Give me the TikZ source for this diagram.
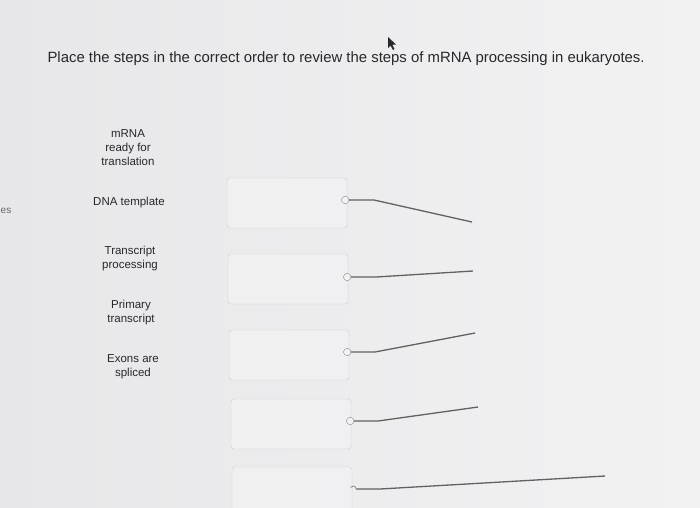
\documentclass[tikz,border=0pt]{standalone}
\usepackage{fontspec}
\setmainfont{Liberation Sans}
\usepackage{xcolor}
\usepackage{tikz}
\usetikzlibrary{positioning}

\definecolor{screen}{RGB}{231,231,233}
\definecolor{screenlight}{RGB}{242,242,243}
\definecolor{ink}{RGB}{40,40,44}

\begin{document}
\begin{tikzpicture}[x=1pt, y=-1pt,
    answer/.style={draw=black!20, rounded corners=3pt, minimum width=120pt, minimum height=50pt, fill=white, fill opacity=0.25, draw opacity=1},
    pin/.style={circle, draw=black!45, fill=screenlight, inner sep=0pt, minimum size=7.5pt},
    wire/.style={draw=black!62, line width=1.3pt},
    card/.style={align=center, text=ink, font=\fontsize{11.5}{14}\selectfont}]
    \useasboundingbox (0,0) rectangle (700,507);
    \clip (0,0) rectangle (700,507);
    \shade[left color=screen, right color=screenlight] (0,0) rectangle (700,507);

    % side panels
    \draw[black!12, rounded corners=4pt] (-10,-10) -- (14,-10) -- (14,83) -- (-10,83);
    \draw[black!12, rounded corners=4pt] (-10,110) -- (22,110) -- (22,225) -- (-10,225);
    \node[text=black!60, font=\fontsize{10}{12}\selectfont] (tab) at (6,211) {es};

    % question
    \node[text=ink, font=\fontsize{14.9}{17}\selectfont, anchor=base west] (title) at (44,62)
        {Place the steps in the correct order to review the steps of mRNA processing in eukaryotes.};
    \fill[ink] (388,37) -- (388,48) -- (390.5,45.5) -- (393,50) -- (394.5,49) -- (392.3,44.8) -- (396,44.5) -- cycle;

    % steps to place
    \node[card] (ready) at (128,148) {mRNA\\ready for\\translation};
    \node[card] (dna) at (129,203) {DNA template};
    \node[card] (proc) at (130,259) {Transcript\\processing};
    \node[card] (primary) at (131,313) {Primary\\transcript};
    \node[card] (exons) at (133,367) {Exons are\\spliced};

    % answer boxes
    \node[answer] (box1) at (287,203) {};
    \node[answer] (box2) at (288,279) {};
    \node[answer] (box3) at (289,355) {};
    \node[answer] (box4) at (291,424) {};
    \node[answer] (box5) at (292,492) {};

    \coordinate (b1) at (374,200);
    \coordinate (e1) at (472,222);
    \coordinate (b2) at (376,277);
    \coordinate (e2) at (473,271);
    \coordinate (b3) at (375,352);
    \coordinate (e3) at (475,333);
    \coordinate (b4) at (378,421);
    \coordinate (e4) at (478,407);
    \coordinate (b5) at (380,489);
    \coordinate (e5) at (605,476);

    \draw[wire] (box1.east) ++(-2,-3) coordinate (s1) -- (b1) -- (e1);
    \draw[wire] (box2.east) ++(-1,-2) coordinate (s2) -- (b2) -- (e2);
    \draw[wire] (box3.east) ++(-2,-3) coordinate (s3) -- (b3) -- (e3);
    \draw[wire] (box4.east) ++(-1,-3) coordinate (s4) -- (b4) -- (e4);
    \draw[wire] (box5.east) ++(4,-3) coordinate (s5) -- (b5) -- (e5);

    \node[pin] (p1) at (s1) {};
    \node[pin] (p2) at (s2) {};
    \node[pin] (p3) at (s3) {};
    \node[pin] (p4) at (s4) {};
    \draw[black!45, line width=0.8pt] (s5) arc[start angle=0, end angle=150, radius=3pt];
\end{tikzpicture}
\end{document}
